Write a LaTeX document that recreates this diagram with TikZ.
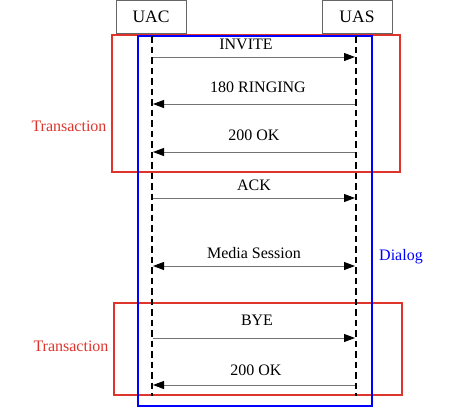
\documentclass[tikz,border=0pt]{standalone}
\usepackage{fontspec}
\setmainfont{Liberation Serif}
\usetikzlibrary{arrows.meta}
\definecolor{txred}{RGB}{222,52,44}
\begin{document}
\begin{tikzpicture}[x=1pt,y=-1pt,
  entity/.style={draw=black!60,line width=0.8pt,fill=white,minimum width=70pt,minimum height=33pt,inner sep=0pt,font=\fontsize{17.5}{20}\selectfont},
  lifeline/.style={draw=black,line width=1.5pt,dash pattern=on 6.5pt off 4pt},
  msg/.style={draw=black!55,line width=0.9pt,-{Triangle[length=11pt,width=8pt,black]}},
  bimsg/.style={draw=black!55,line width=0.9pt,{Triangle[length=11pt,width=8pt,black]}-{Triangle[length=11pt,width=8pt,black]}},
  lbl/.style={font=\fontsize{16}{18}\selectfont,inner sep=0pt},
  trans/.style={draw=txred,line width=1.3pt},
  dialog/.style={draw=blue,line width=1.4pt},
  translbl/.style={lbl,text=txred},
  diallbl/.style={lbl,text=blue}]
\useasboundingbox (0,0) rectangle (474,410);
% boxes
\draw[trans] (112,35) rectangle (400,172);
\draw[trans] (114,303) rectangle (402,395);
\draw[dialog] (138,36) rectangle (372,406);
% entities
\node[entity] (uac) at (151,16.5) {UAC};
\node[entity] (uas) at (357,16.5) {UAS};
% lifeline ends
\coordinate (uacTop) at (152,36);
\coordinate (uacBot) at (152,396);
\coordinate (uasTop) at (356,36);
\coordinate (uasBot) at (356,396);
\draw[lifeline] (uacTop) -- (uacBot);
\draw[lifeline] (uasTop) -- (uasBot);
% message points
\foreach \n/\y in {inv/57,ring/104,ok/152,ack/198,media/266,bye/338,okb/385}{
  \coordinate (c\n) at (153,\y);
  \coordinate (s\n) at (355,\y);
}
\draw[msg] (cinv) -- (sinv);
\draw[msg] (sring) -- (cring);
\draw[msg] (sok) -- (cok);
\draw[msg] (cack) -- (sack);
\draw[bimsg] (cmedia) -- (smedia);
\draw[msg] (cbye) -- (sbye);
\draw[msg] (sokb) -- (cokb);
% labels
\node[lbl] (linv) at (246,44) {INVITE};
\node[lbl] (lring) at (258,87) {180 RINGING};
\node[lbl] (lok) at (254,135) {200 OK};
\node[lbl] (lack) at (254,185) {ACK};
\node[lbl] (lmedia) at (254,253) {Media Session};
\node[lbl] (lbye) at (257,320) {BYE};
\node[lbl] (lokb) at (256,370) {200 OK};
\node[translbl] (t1) at (69,126) {Transaction};
\node[translbl] (t2) at (71,346) {Transaction};
\node[diallbl] (dl) at (401,257) {Dialog};
\end{tikzpicture}
\end{document}
